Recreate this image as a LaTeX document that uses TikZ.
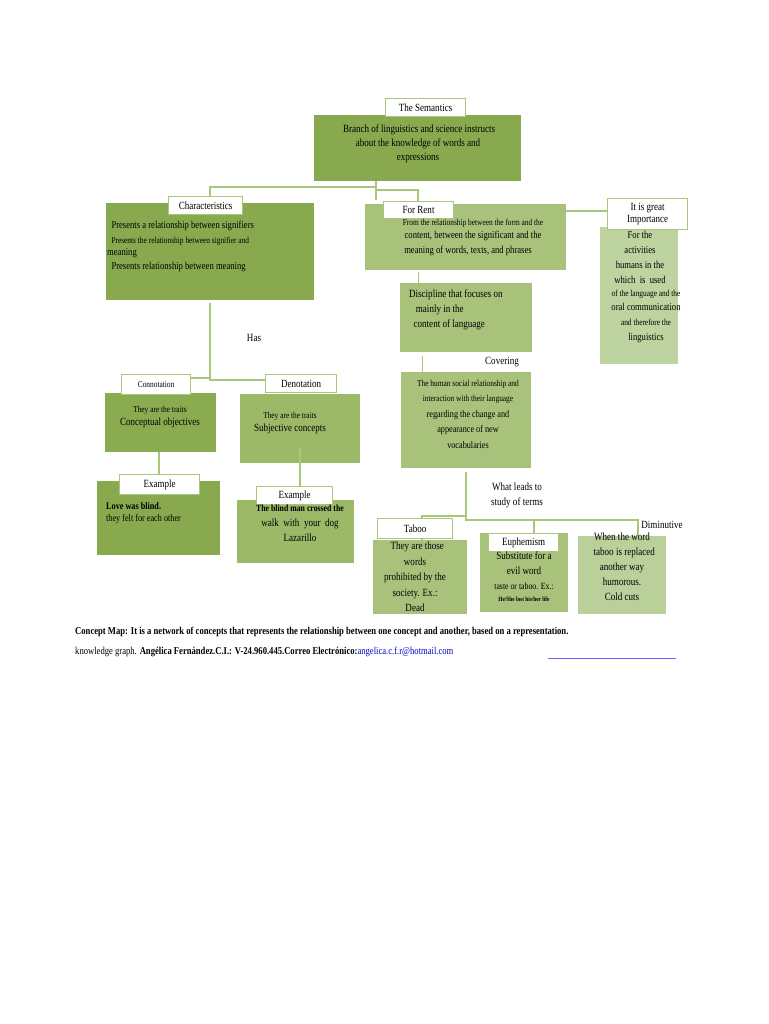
\documentclass[tikz,border=0pt]{standalone}
\usepackage{fontspec}
\setmainfont{Liberation Serif}[FakeStretch=0.82]
\begin{document}
\begin{tikzpicture}[x=1pt,y=-1pt,
 lbl/.style={draw=green!50!black!40!lime!50!gray,line width=1.2pt,fill=white,inner sep=0pt,font=\fontsize{11}{12}\selectfont},
 txt/.style={align=center,inner sep=0pt,font=\fontsize{10}{12}\selectfont},
 ln/.style={draw=lnc,line width=1.3pt}]
\definecolor{lnc}{HTML}{A9C77A}
\tikzset{lbl/.append style={draw=lnc}}
\useasboundingbox (0,0) rectangle (768,1024);
\fill[white] (0,0) rectangle (768,1024);
% boxes
\newcommand\bx[5]{\node[fill=#5,draw=#5!85!white,minimum width=#3-#1,minimum height=#4-#2,inner sep=0pt,anchor=north west] at (#1,#2) {};}
\definecolor{dk}{HTML}{89A94F}\definecolor{md}{HTML}{9CB968}\definecolor{lt}{HTML}{A8C27C}\definecolor{vl}{HTML}{BDD3A0}
\node[fill=dk,minimum width=207,minimum height=66,anchor=north west,inner sep=0] (top) at (314,115) {};
\node[fill=dk,minimum width=208,minimum height=97,anchor=north west,inner sep=0] (car) at (106,203) {};
\node[fill=lt,minimum width=201,minimum height=66,anchor=north west,inner sep=0] (rent) at (365,204) {};
\node[fill=vl,minimum width=78,minimum height=137,anchor=north west,inner sep=0] (imp) at (600,227) {};
\node[fill=lt,minimum width=132,minimum height=69,anchor=north west,inner sep=0] (dis) at (400,283) {};
\node[fill=lt,minimum width=130,minimum height=96,anchor=north west,inner sep=0] (hum) at (401,372) {};
\node[fill=lt,minimum width=94,minimum height=74,anchor=north west,inner sep=0] (tab) at (373,540) {};
\node[fill=lt,minimum width=88,minimum height=79,anchor=north west,inner sep=0] (eup) at (480,533) {};
\node[fill=vl!85!lt,minimum width=88,minimum height=78,anchor=north west,inner sep=0] (dim) at (578,536) {};
\node[fill=dk!90!md,minimum width=111,minimum height=59,anchor=north west,inner sep=0] (con) at (105,393) {};
\node[fill=md,minimum width=120,minimum height=69,anchor=north west,inner sep=0] (den) at (240,394) {};
\node[fill=dk,minimum width=123,minimum height=74,anchor=north west,inner sep=0] (ex1) at (97,481) {};
\node[fill=md,minimum width=117,minimum height=63,anchor=north west,inner sep=0] (ex2) at (237,500) {};
% connectors
\coordinate (j1) at (376,187);
\draw[ln] (top.south -| j1) -- (j1) -- (376,200);
\draw[ln] (j1) -- (210,187) -- (car.north -| 210,0);
\draw[ln] (376,190) -- (418,190) -- (rent.north -| 418,0);
\draw[ln] (rent.east |- 0,211) -- (607,211);
\draw[ln,line width=0.8pt] (418,272) -- (dis.north -| 418,0);
\draw[ln,line width=0.8pt] (422,356) -- (hum.north -| 422,0);
\draw[ln] (210,303) -- (210,380) -- (265,380);
\draw[ln] (190,378) -- (210,378);
\draw[ln] (159,452) -- (159,481);
\draw[ln] (300,447) -- (300,500);
\draw[ln] (466,472) -- (466,520) -- (638,520) -- (638,536);
\draw[ln] (466,516) -- (422,516) -- (422,540);
\draw[ln] (534,520) -- (534,533);
% labels
\node[lbl,minimum width=80,minimum height=18,anchor=north west] (l1) at (385,98) {The Semantics};
\node[lbl,minimum width=74,minimum height=18,anchor=north west] (l2) at (168,196) {Characteristics};
\node[lbl,minimum width=70,minimum height=17,anchor=north west] (l3) at (383,201) {For Rent};
\node[lbl,minimum width=80,minimum height=31,anchor=north west,align=center,font=\fontsize{11}{12}\selectfont] (l4) at (607,198) {It is great\\Importance};
\node[lbl,minimum width=69,minimum height=20,anchor=north west,font=\fontsize{9}{10}\selectfont] (l5) at (121,374) {Connotation};
\node[lbl,minimum width=71,minimum height=18,anchor=north west] (l6) at (265,374) {Denotation};
\node[lbl,minimum width=80,minimum height=20,anchor=north west] (l7) at (119,474) {Example};
\node[lbl,minimum width=76,minimum height=18,anchor=north west] (l8) at (256,486) {Example};
\node[lbl,minimum width=75,minimum height=20,anchor=north west] (l9) at (377,518) {Taboo};
\node[lbl,minimum width=70,minimum height=18,anchor=north west] (l10) at (488,533) {Euphemism};
% texts
\node[txt,font=\fontsize{11}{14}\selectfont] at (418,144) {\ Branch of linguistics and science instructs\\about the knowledge of words and\hspace{30pt}\\expressions};
\node[txt,align=left,anchor=north west,font=\fontsize{10.5}{12}\selectfont] at (107,221) {\ \ Presents a relationship between signifiers\\[3pt]\ \ {\fontsize{9}{10}\selectfont Presents the relationship between signifier and}\\meaning\\[2pt]\ \ Presents relationship between meaning};
\node[txt,anchor=north,font=\fontsize{9}{15}\selectfont] at (468,219) {\hspace{10pt}From the relationship between the form and the\\[-2pt]\fontsize{10.5}{13}\selectfont\hspace{10pt}content, between the significant and the\\\fontsize{10.5}{13}\selectfont meaning of words, texts, and phrases\hspace{15pt}};
\node[txt,anchor=north,font=\fontsize{10.5}{15}\selectfont] at (640,231) {For the\\activities\\humans in the\\which\ \ is\ \ used\hspace{10pt}};
\node[txt,anchor=north,font=\fontsize{9}{15}\selectfont] at (646,290) {of the language and the\\[-1pt]\fontsize{10.5}{13}\selectfont oral communication\\\fontsize{9}{13}\selectfont and therefore the\\\fontsize{10.5}{14}\selectfont linguistics};
\node[txt,anchor=north west,align=left,font=\fontsize{11}{15}\selectfont] at (409,290) {Discipline that focuses on\\\ \ \ mainly in the\\\ \ content of language};
\node[txt,anchor=north,font=\fontsize{9}{15.5}\selectfont] at (468,380) {The human social relationship and\\interaction with their language\\\fontsize{10}{15}\selectfont regarding the change and\\\fontsize{10}{15}\selectfont appearance of new\\\fontsize{10}{15}\selectfont vocabularies};
\node[txt,anchor=north,font=\fontsize{9}{12}\selectfont] at (160,406) {They are the traits\\[1pt]\fontsize{11}{13}\selectfont Conceptual objectives};
\node[txt,anchor=north,font=\fontsize{9}{12}\selectfont] at (290,412) {They are the traits\\[1pt]\fontsize{11}{13}\selectfont Subjective concepts};
\node[txt,anchor=north west,align=left,font=\fontsize{10}{12}\selectfont] at (106,502) {\textbf{Love was blind.}\\they felt for each other};
\node[txt,anchor=north,font=\fontsize{11}{15}\selectfont] at (300,505) {{\fontsize{9.5}{11}\selectfont\textbf{The blind man crossed the}}\\walk\ \ with\ \ your\ \ dog\\Lazarillo};
\node[txt,anchor=north,font=\fontsize{11}{15.5}\selectfont] at (415,542) {\ \ They are those\\words\\prohibited by the\\society. Ex.:\\Dead};
\node[txt,anchor=north,font=\fontsize{11}{15}\selectfont] at (524,552) {Substitute for a\\evil word\hspace{20pt}\\\fontsize{9.5}{14}\selectfont taste or taboo. Ex.:\\[-3pt]\fontsize{6.5}{8}\selectfont\textbf{He/She lost his/her life}};
\node[txt,anchor=north,font=\fontsize{11}{15}\selectfont] at (622,533) {When the word\\\ \ taboo is replaced\\another way\\humorous.\\Cold cuts};
\node[txt,font=\fontsize{11}{13}\selectfont] at (254,338) {Has};
\node[txt,font=\fontsize{11}{13}\selectfont] at (502,362) {Covering};
\node[txt,font=\fontsize{11}{15}\selectfont] at (517,495) {What leads to\\study of terms};
\node[txt,font=\fontsize{11}{13}\selectfont] at (662,525) {Diminutive};
\node[txt,anchor=west,font=\fontsize{10.5}{13}\selectfont] at (75,632) {\textbf{Concept Map: It is a network of concepts that represents the relationship between one concept and another, based on a representation.}};
\node[txt,anchor=west,font=\fontsize{10.5}{13}\selectfont] at (75,652) {knowledge graph. \textbf{Angélica Fernández.C.I.: V-24.960.445.Correo Electrónico:}\textcolor{blue!80!black}{angelica.c.f.r@hotmail.com}};
\draw[blue!60,line width=0.8pt] (548,658) -- (676,658);
\end{tikzpicture}
\end{document}
